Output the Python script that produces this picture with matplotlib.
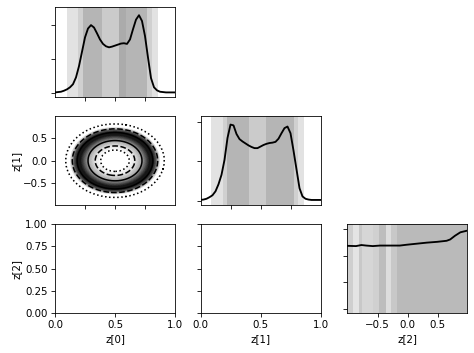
import numpy as np
import matplotlib
matplotlib.use("Agg")
import matplotlib.pyplot as plt

# ---------------- data ----------------
grid_x = [-1.00, -0.95, -0.90, -0.85, -0.80, -0.75, -0.70, -0.65, -0.60, -0.55,
          -0.50, -0.45, -0.40, -0.35, -0.30, -0.25, -0.20, -0.15, -0.10, -0.05,
          0.00, 0.05, 0.10, 0.15, 0.20, 0.25, 0.30, 0.35, 0.40, 0.45,
          0.50, 0.55, 0.60, 0.65, 0.70, 0.75, 0.80, 0.85, 0.90, 0.95, 1.00]

z0_density = [0.03, 0.04, 0.05, 0.08, 0.12, 0.18, 0.27, 0.47, 0.80, 1.22,
              1.64, 1.90, 2.00, 1.93, 1.76, 1.58, 1.45, 1.38, 1.35, 1.37,
              1.40, 1.43, 1.46, 1.47, 1.45, 1.58, 1.88, 2.16, 2.29, 2.12,
              1.68, 1.05, 0.45, 0.18, 0.09, 0.05, 0.04, 0.03, 0.03, 0.03, 0.03]

z1_density = [0.02, 0.03, 0.05, 0.09, 0.14, 0.24, 0.42, 0.66, 1.04, 1.60,
              1.94, 1.92, 1.70, 1.57, 1.51, 1.46, 1.41, 1.37, 1.34, 1.34,
              1.38, 1.42, 1.45, 1.47, 1.48, 1.50, 1.58, 1.72, 1.85, 1.89,
              1.72, 1.28, 0.80, 0.32, 0.11, 0.05, 0.03, 0.02, 0.02, 0.02, 0.02]

z2_x = [-1.00, -0.86, -0.77, -0.69, -0.58, -0.46, -0.30, -0.13, -0.02, 0.15,
        0.32, 0.49, 0.65, 0.71, 0.79, 0.88, 0.99]
z2_density = [2.37, 2.36, 2.40, 2.38, 2.36, 2.38, 2.38, 2.38, 2.41, 2.45,
              2.49, 2.52, 2.56, 2.61, 2.75, 2.88, 2.94]

# shaded credible bands: (low, high, gray level)
z0_band_lo = [-0.80, -0.62, -0.53, -0.21, 0.06, 0.19, 0.54, 0.61]
z0_band_hi = [-0.62, -0.53, -0.21, 0.06, 0.19, 0.54, 0.61, 0.71]
z0_band_gray = ['#e2e2e2', '#d0d0d0', '#b5b5b5', '#cbcbcb', '#ababab', '#b5b5b5', '#d0d0d0', '#e2e2e2']

z1_band_lo = [-0.82, -0.63, -0.56, -0.19, 0.09, 0.55, 0.62]
z1_band_hi = [-0.63, -0.56, -0.19, 0.09, 0.55, 0.62, 0.73]
z1_band_gray = ['#e2e2e2', '#d0d0d0', '#b5b5b5', '#cbcbcb', '#b5b5b5', '#d0d0d0', '#e2e2e2']

z2_band_lo = [-1.01, -0.91, -0.81, -0.76, -0.58, -0.48, -0.36, -0.27, -0.18]
z2_band_hi = [-0.91, -0.81, -0.76, -0.58, -0.48, -0.36, -0.27, -0.18, 0.99]
z2_band_gray = ['#cfcfcf', '#e4e4e4', '#c8c8c8', '#d6d6d6', '#d0d0d0', '#bdbdbd', '#dddddd', '#c8c8c8', '#bababa']

# 2-D (z[0], z[1]) density of the ring, read along the radius
ring_r = [0.00, 0.15, 0.24, 0.33, 0.45, 0.52, 0.58, 0.63, 0.71, 0.82, 0.95, 1.50]
ring_d = [0.02, 0.04, 0.08, 0.25, 0.60, 0.85, 1.00, 0.60, 0.25, 0.08, 0.02, 0.00]
# grey shading of the ring (0 = white, 1 = black), read along the radius
shade_r = [0.00, 0.24, 0.33, 0.45, 0.52, 0.58, 0.62, 0.67, 0.71, 0.75, 1.50]
shade_v = [0.00, 0.00, 0.10, 0.35, 0.65, 0.90, 0.92, 0.70, 0.30, 0.00, 0.00]
contour_levels = [0.08, 0.25, 0.60]
contour_styles = [':', '--', '-']

labels = ['z[0]', 'z[1]', 'z[2]']

# ---------------- figure ----------------
DPI = 74
fig = plt.figure(figsize=(474 / DPI, 353 / DPI), dpi=DPI)

col_left = [55 / 474, 200.5 / 474, 347 / 474]
row_bottom = [0.7266, 0.418, 0.1125]
W = 120 / 474
H = 89.5 / 353


def make_ax(r, c):
    return fig.add_axes([col_left[c], row_bottom[r], W, H])


def draw_1d(ax, x, y, lo, hi, gray, xlim, ylim, yticks, xticks):
    for a, b, g in zip(lo, hi, gray):
        ax.axvspan(a, b, color=g, lw=0, zorder=0)
    ax.plot(x, y, color='black', lw=1.8, zorder=3)
    ax.set_xlim(*xlim)
    ax.set_ylim(*ylim)
    ax.set_yticks(yticks)
    ax.set_xticks(xticks)


# (0,0)
ax00 = make_ax(0, 0)
draw_1d(ax00, grid_x, z0_density, z0_band_lo, z0_band_hi, z0_band_gray,
        (-1, 1), (-0.09, 2.53), [0, 1, 2], [-0.5, 0, 0.5])
ax00.tick_params(labelleft=False, labelbottom=False)

# (1,1)
ax11 = make_ax(1, 1)
draw_1d(ax11, grid_x, z1_density, z1_band_lo, z1_band_hi, z1_band_gray,
        (-1, 1), (-0.12, 2.16), [0, 1, 2], [-0.5, 0, 0.5])
ax11.tick_params(labelleft=False, labelbottom=False)

# (2,2)
ax22 = make_ax(2, 2)
draw_1d(ax22, z2_x, z2_density, z2_band_lo, z2_band_hi, z2_band_gray,
        (-1.01, 0.99), (-0.17, 3.2), [0, 1, 2, 3], [-0.5, 0, 0.5])
ax22.tick_params(labelleft=False)
ax22.set_xlabel(labels[2])

# (1,0) 2-D
ax10 = make_ax(1, 0)
gx = np.linspace(-1, 1, 301)
gy = np.linspace(-1, 1, 301)
GX, GY = np.meshgrid(gx, gy)
R = np.hypot(GX, GY)
Z = np.interp(R, ring_r, ring_d)
S = np.interp(R, shade_r, shade_v)
ax10.contourf(GX, GY, S, levels=np.linspace(0.02, 1.0, 40), cmap='gray_r',
              vmin=0, vmax=1, zorder=1)
for lev, ls in zip(contour_levels, contour_styles):
    ax10.contour(GX, GY, Z, levels=[lev], colors='black', linestyles=ls,
                 linewidths=1.5, zorder=2)
ax10.set_xlim(-1, 1)
ax10.set_ylim(-1, 1)
ax10.set_xticks([-0.5, 0, 0.5])
ax10.set_yticks([-0.5, 0, 0.5])
ax10.tick_params(labelbottom=False)
ax10.set_ylabel(labels[1])
ax10.yaxis.set_label_coords(-0.28, 0.5)

# (2,0) empty
ax20 = make_ax(2, 0)
ax20.set_xlim(0, 1)
ax20.set_ylim(0, 1)
ax20.set_xticks([0, 0.5, 1.0])
ax20.set_yticks([0, 0.25, 0.5, 0.75, 1.0])
ax20.set_xlabel(labels[0])
ax20.set_ylabel(labels[2])
ax20.yaxis.set_label_coords(-0.28, 0.5)

# (2,1) empty
ax21 = make_ax(2, 1)
ax21.set_xlim(0, 1)
ax21.set_ylim(0, 1)
ax21.set_xticks([0, 0.5, 1.0])
ax21.set_yticks([0, 0.25, 0.5, 0.75, 1.0])
ax21.tick_params(labelleft=False)
ax21.set_xlabel(labels[1])

fig.savefig('out.png', dpi=DPI)
